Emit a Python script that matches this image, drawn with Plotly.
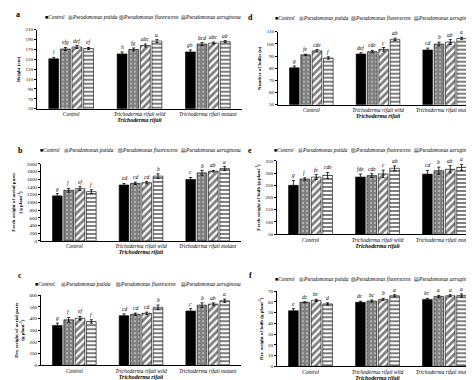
import plotly.graph_objects as go

W, H = 474, 380
FONT = "Liberation Serif"

categories = ["Control", "Trichoderma rifaii wild", "Trichoderma rifaii mutant"]
series_names = ["Control", "Pseudomonas putida", "Pseudomonas fluorescens", "Pseudomonas aeruginosa"]

# (a) Height (cm)
a_control = [151, 161, 165]
a_putida = [171, 170, 181]
a_fluorescens = [175, 178, 183]
a_aeruginosa = [172, 187, 186]
a_err = [[3, 4, 4], [3, 3, 3], [3, 3, 2], [2, 3, 2]]
a_letters = [["i", "h", "gh"], ["efg", "fg", "bcd"], ["def", "abc", "abc"], ["ef", "a", "ab"]]

# (b) Fresh weight of aerial parts
b_control = [1170, 1453, 1598]
b_putida = [1316, 1496, 1769]
b_fluorescens = [1359, 1513, 1812]
b_aeruginosa = [1282, 1684, 1880]
b_err = [[60, 40, 50], [50, 30, 60], [50, 30, 20], [50, 60, 50]]
b_letters = [["g", "ed", "c"], ["f", "cd", "b"], ["ef", "cd", "ab"], ["f", "b", "a"]]

# (c) Dry weight of aerial parts
c_control = [341, 425, 465]
c_putida = [389, 437, 515]
c_fluorescens = [403, 445, 524]
c_aeruginosa = [375, 496, 552]
c_err = [[20, 15, 20], [20, 10, 20], [15, 10, 10], [15, 20, 15]]
c_letters = [["g", "cd", "c"], ["f", "cd", "b"], ["ef", "cd", "ab"], ["f", "b", "a"]]

# (d) Number of bulbs
d_control = [80.3, 91.7, 95.0]
d_putida = [91.0, 93.6, 99.9]
d_fluorescens = [94.3, 95.5, 101.5]
d_aeruginosa = [88.4, 103.7, 104.5]
d_err = [[1.5, 1, 1.5], [0.5, 1, 1.5], [1, 1.5, 2], [1, 1, 1]]
d_letters = [["g", "def", "cd"], ["fe", "cde", "b"], ["cde", "c", "ab"], ["f", "ab", "a"]]

# (e) Fresh weight of bulb
e_control = [250, 284, 296]
e_putida = [276, 290, 310]
e_fluorescens = [284, 297, 316]
e_aeruginosa = [291, 320, 324]
e_err = [[20, 12, 15], [5, 8, 15], [10, 15, 15], [12, 10, 12]]
e_letters = [["g", "fde", "cd"], ["f", "cde", "b"], ["fe", "c", "ab"], ["cde", "ab", "a"]]

# (f) Dry weight of bulb
f_control = [51.8, 59.7, 62.4]
f_putida = [59.7, 60.9, 65.2]
f_fluorescens = [61.5, 62.4, 65.8]
f_aeruginosa = [58.2, 65.8, 66.0]
f_err = [[2, 1, 1], [0.5, 1, 1], [1, 1, 1], [1, 1, 1.5]]
f_letters = [["e", "dc", "bc"], ["dc", "bc", "a"], ["bc", "b", "a"], ["d", "a", "a"]]

panels = [
    dict(tag="a", series=[a_control, a_putida, a_fluorescens, a_aeruginosa], err=a_err, letters=a_letters,
         ytitle="<b>Height (cm)</b>", yrange=[50, 210], dtick=20,
         xdom=[29, 234], ydom=[20, 100], legend=(35, 233, 7), label=(10, 5)),
    dict(tag="b", series=[b_control, b_putida, b_fluorescens, b_aeruginosa], err=b_err, letters=b_letters,
         ytitle="<b>Fresh weight of aerial parts<br>( g plant<sup>-1</sup>)</b>", yrange=[0, 2000], dtick=200,
         xdom=[33, 233], ydom=[156, 234], legend=(30, 233, 142), label=(12, 142)),
    dict(tag="c", series=[c_control, c_putida, c_fluorescens, c_aeruginosa], err=c_err, letters=c_letters,
         ytitle="<b>Dry weight of aerial parts<br>(g plant<sup>-1</sup>)</b>", yrange=[0, 600], dtick=100,
         xdom=[33, 233], ydom=[289, 360], legend=(25, 233, 278), label=(12, 269)),
    dict(tag="d", series=[d_control, d_putida, d_fluorescens, d_aeruginosa], err=d_err, letters=d_letters,
         ytitle="<b>Number of bulbs (n)</b>", yrange=[50, 110], dtick=10,
         xdom=[270, 470], ydom=[22, 96], legend=(265, 466, 8), label=(242, 8)),
    dict(tag="e", series=[e_control, e_putida, e_fluorescens, e_aeruginosa], err=e_err, letters=e_letters,
         ytitle="<b>Fresh weight of bulb (g plant<sup>-1</sup>)</b>", yrange=[50, 350], dtick=50,
         xdom=[269, 470], ydom=[153, 227], legend=(264, 466, 142), label=(242, 142)),
    dict(tag="f", series=[f_control, f_putida, f_fluorescens, f_aeruginosa], err=f_err, letters=f_letters,
         ytitle="<b>Dry weight of bulb (g plant<sup>-1</sup>)</b>", yrange=[0, 70], dtick=10,
         xdom=[269, 470], ydom=[285, 361], legend=(265, 466, 273), label=(242, 269)),
]

styles = [
    dict(color="black", pattern=dict(shape="")),
    dict(color="#808080", pattern=dict(shape=".", fgcolor="white", bgcolor="#808080", size=4, solidity=0.2)),
    dict(color="white", pattern=dict(shape="/", fgcolor="black", bgcolor="white", size=5, solidity=0.55)),
    dict(color="white", pattern=dict(shape="-", fgcolor="black", bgcolor="white", size=4, solidity=0.5)),
]
legend_syms = ["<span style='color:black'>■</span>", "<span style='color:#777'>▦</span>",
               "<span style='color:black'>▨</span>", "<span style='color:black'>▤</span>"]
LEG_FONT = 5.3
# approximate rendered widths (px) of each legend entry at LEG_FONT
leg_w = [21, 50, 60, 62]

BARGAP = 0.32
xpos = [0, 1, 2]

fig = go.Figure()
layout = dict(width=W, height=H, margin=dict(l=0, r=0, t=0, b=0), paper_bgcolor="white",
              plot_bgcolor="white", barmode="group", bargap=BARGAP, bargroupgap=0.15,
              showlegend=False, font=dict(family=FONT, color="black", size=5))
annotations = []

for k, p in enumerate(panels):
    sfx = "" if k == 0 else str(k + 1)
    xa, ya = "x" + sfx, "y" + sfx
    for j, vals in enumerate(p["series"]):
        st = styles[j]
        fig.add_trace(go.Bar(
            x=xpos, y=vals, name=series_names[j], xaxis=xa, yaxis=ya,
            marker=dict(color=st["color"], pattern=st["pattern"], line=dict(color="black", width=0.6)),
            error_y=dict(type="data", array=p["err"][j], color="black", thickness=0.8, width=1.5),
        ))
        slot = (1 - BARGAP) / 4
        for i in range(3):
            xc = xpos[i] - (1 - BARGAP) / 2 + slot * (j + 0.5)
            annotations.append(dict(x=xc, y=vals[i] + p["err"][j][i], xref=xa, yref=ya,
                                    text="<i>" + p["letters"][j][i] + "</i>", showarrow=False,
                                    yanchor="bottom", yshift=0, font=dict(size=5.5, family=FONT)))
    x0, x1 = p["xdom"]
    y0, y1 = p["ydom"]
    layout["xaxis" + sfx] = dict(domain=[x0 / W, x1 / W], anchor=ya, range=[-0.5, 2.5],
                                 tickvals=xpos, ticktext=["<i>" + c + "</i>" for c in categories],
                                 tickfont=dict(size=5.5, family=FONT), showline=True, linecolor="black",
                                 linewidth=0.8, ticks="", showgrid=False, zeroline=False,
                                 title=dict(text="<b><i>Trichoderma rifaii</i></b>", font=dict(size=5.8, family=FONT),
                                            standoff=0))
    layout["yaxis" + sfx] = dict(domain=[1 - y1 / H, 1 - y0 / H], anchor=xa, range=p["yrange"],
                                 dtick=p["dtick"], tick0=p["yrange"][0], showline=True, linecolor="black",
                                 linewidth=0.8, ticks="outside", ticklen=2, tickwidth=0.6, tickcolor="black",
                                 showgrid=False, zeroline=False, tickfont=dict(size=5, family=FONT),
                                 title=dict(text=p["ytitle"], font=dict(size=5, family=FONT), standoff=4))
    ls, le, ly = p["legend"]
    gap = max((le - ls - sum(leg_w)) / 3, 1)
    cx = ls
    for j in range(4):
        annotations.append(dict(x=cx / W, y=1 - ly / H, xref="paper", yref="paper",
                                text=legend_syms[j] + "<i>" + series_names[j] + "</i>", showarrow=False,
                                xanchor="left", yanchor="middle", font=dict(size=LEG_FONT, family=FONT)))
        cx += leg_w[j] + gap
    bx, by = p["label"]
    annotations.append(dict(x=bx / W, y=1 - by / H, xref="paper", yref="paper", text="<b>" + p["tag"] + "</b>",
                            showarrow=False, xanchor="center", yanchor="middle", font=dict(size=8, family=FONT)))

layout["annotations"] = annotations
fig.update_layout(**layout)
fig.write_html("out.html")
